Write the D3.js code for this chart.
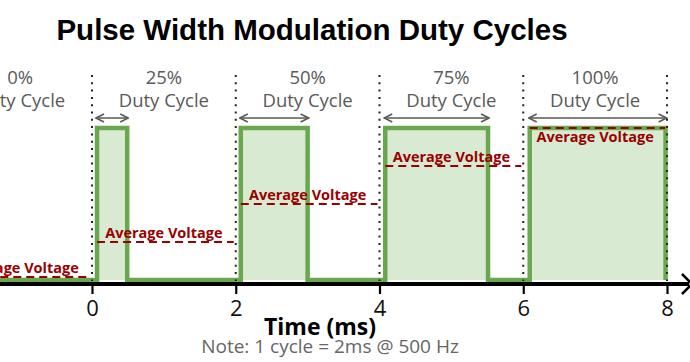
<!DOCTYPE html>
<html>
<head>
<meta charset="utf-8">
<script src="https://cdn.jsdelivr.net/npm/d3@7"></script>
<style>
  body { margin: 0; background: #fff; }
  svg { display: block; }
</style>
</head>
<body>
<div id="chart"></div>
<script>
const W = 690, H = 362;

// data
const dutyCycles = [0, 25, 50, 75, 100];
const cycleStarts = [-2, 0, 2, 4, 6];
const pulseRise = [0.07, 2.07, 4.08, 6.09];
const pulseFall = [0.49, 3.0, 5.51, 7.98];
const tickValues = [0, 2, 4, 6, 8];
const dividers = [0, 2, 4, 6, 8];

const x = d3.scaleLinear().domain([0, 8]).range([92, 667]);
const y = d3.scaleLinear().domain([0, 100]).range([280, 128]);
const axisY = 284;

const svg = d3.select("#chart").append("svg").attr("width", W).attr("height", H);

// title
svg.append("text")
  .attr("x", 312).attr("y", 40)
  .attr("text-anchor", "middle")
  .attr("font-family", "Liberation Sans, Arial, sans-serif")
  .attr("font-weight", "bold")
  .attr("font-size", 29.5)
  .text("Pulse Width Modulation Duty Cycles");

// pulse fills
svg.selectAll("rect.pulse")
  .data(pulseRise)
  .enter().append("rect")
  .attr("class", "pulse")
  .attr("x", (d) => x(d))
  .attr("width", (d, i) => x(pulseFall[i]) - x(d))
  .attr("y", y(100))
  .attr("height", y(0) - y(100))
  .attr("fill", "#d9ead3");

// waveform
const wave = [[-2.2, 0]];
pulseRise.forEach((r, i) => {
  wave.push([r, 0], [r, 100], [pulseFall[i], 100], [pulseFall[i], 0]);
});
svg.append("path")
  .attr("d", d3.line().x((d) => x(d[0])).y((d) => y(d[1]))(wave))
  .attr("fill", "none")
  .attr("stroke", "#6aa84f")
  .attr("stroke-width", 4.5)
  .attr("stroke-linejoin", "miter");

// dotted dividers
svg.selectAll("line.div")
  .data(dividers)
  .enter().append("line")
  .attr("class", "div")
  .attr("x1", (d) => x(d)).attr("x2", (d) => x(d))
  .attr("y1", 75).attr("y2", 281)
  .attr("stroke", "#222")
  .attr("stroke-width", 2)
  .attr("stroke-dasharray", "2,5.3");

// average voltage lines
svg.selectAll("line.avg")
  .data(dutyCycles)
  .enter().append("line")
  .attr("class", "avg")
  .attr("x1", (d, i) => (i === 0 ? x(cycleStarts[i]) : x(pulseRise[i - 1])))
  .attr("x2", (d, i) => x(cycleStarts[i] + 2) - 2)
  .attr("y1", (d) => (d === 0 ? y(d) - 3 : y(d)))
  .attr("y2", (d) => (d === 0 ? y(d) - 3 : y(d)))
  .attr("stroke", "#990000")
  .attr("stroke-width", 2)
  .attr("stroke-dasharray", "8,5");

svg.selectAll("text.avg")
  .data(dutyCycles)
  .enter().append("text")
  .attr("class", "avg")
  .attr("x", (d, i) => x(cycleStarts[i] + 1))
  .attr("y", (d) => (d === 100 ? y(d) + 14 : d === 0 ? y(d) - 7 : y(d) - 4))
  .attr("text-anchor", "middle")
  .attr("font-family", "Open Sans, sans-serif")
  .attr("font-weight", "bold")
  .attr("font-size", 14.5)
  .attr("fill", "#990000")
  .text("Average Voltage");

// duty cycle labels
const lab = svg.selectAll("text.duty")
  .data(dutyCycles)
  .enter().append("text")
  .attr("class", "duty")
  .attr("text-anchor", "middle")
  .attr("font-family", "Open Sans, sans-serif")
  .attr("font-size", 18.5)
  .attr("fill", "#595959");
lab.append("tspan").attr("x", (d, i) => x(cycleStarts[i] + 1)).attr("y", 84).text((d) => d + "%");
lab.append("tspan").attr("x", (d, i) => x(cycleStarts[i] + 1)).attr("y", 107).text("Duty Cycle");

// width arrows
const defs = svg.append("defs");
defs.append("marker")
  .attr("id", "head")
  .attr("viewBox", "0 0 10 10")
  .attr("refX", 9).attr("refY", 5)
  .attr("markerWidth", 10).attr("markerHeight", 10)
  .attr("markerUnits", "userSpaceOnUse")
  .attr("orient", "auto-start-reverse")
  .append("path")
  .attr("d", "M1,1 L9,5 L1,9")
  .attr("fill", "none")
  .attr("stroke", "#595959")
  .attr("stroke-width", 1.6);

svg.selectAll("line.arrow")
  .data(pulseRise)
  .enter().append("line")
  .attr("class", "arrow")
  .attr("x1", (d) => x(d) - 1)
  .attr("x2", (d, i) => x(pulseFall[i]) + 1)
  .attr("y1", 118).attr("y2", 118)
  .attr("stroke", "#595959")
  .attr("stroke-width", 1.6)
  .attr("marker-start", "url(#head)")
  .attr("marker-end", "url(#head)");

// x axis
const axis = svg.append("g")
  .attr("transform", `translate(0,${axisY})`)
  .call(d3.axisBottom(x).tickValues(tickValues).tickSize(10).tickSizeOuter(0).tickPadding(6));
axis.select(".domain").remove();
axis.selectAll(".tick line").attr("stroke", "#000").attr("stroke-width", 2.2);
axis.selectAll(".tick text")
  .attr("font-family", "Open Sans, sans-serif")
  .attr("font-size", 22)
  .attr("fill", "#111");

svg.append("line")
  .attr("x1", 0).attr("x2", 689)
  .attr("y1", axisY).attr("y2", axisY)
  .attr("stroke", "#000")
  .attr("stroke-width", 4);
svg.append("path")
  .attr("d", `M682,${axisY - 10} L692,${axisY} L682,${axisY + 10}`)
  .attr("fill", "none")
  .attr("stroke", "#000")
  .attr("stroke-width", 2.5);

svg.append("text")
  .attr("x", 320).attr("y", 335)
  .attr("text-anchor", "middle")
  .attr("font-family", "Open Sans, sans-serif")
  .attr("font-weight", "bold")
  .attr("font-size", 23)
  .attr("fill", "#000")
  .text("Time (ms)");

svg.append("text")
  .attr("x", 330).attr("y", 353)
  .attr("text-anchor", "middle")
  .attr("font-family", "Open Sans, sans-serif")
  .attr("font-size", 19)
  .attr("fill", "#666")
  .text("Note: 1 cycle = 2ms @ 500 Hz");
</script>
</body>
</html>
